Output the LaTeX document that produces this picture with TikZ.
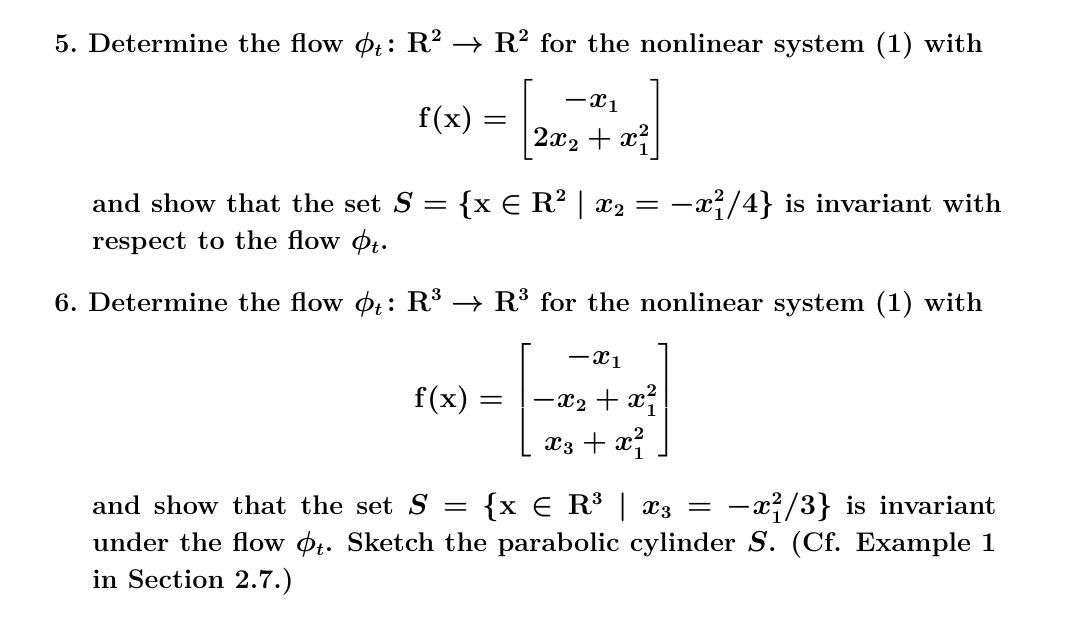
\documentclass[tikz,border=0pt]{standalone}
\usepackage{amsmath,amssymb}
\begin{document}
\begin{tikzpicture}[x=1pt,y=1pt,
  ln/.style={anchor=base west,inner sep=0pt,font=\fontsize{13.5}{18.5}\selectfont\bfseries\boldmath}]
\useasboundingbox[fill=white] (0,0) rectangle (540,-308);
\node[ln] (l1) at (27,-26) {5.\ Determine the flow $\phi_t\colon \mathbf{R}^2\to\mathbf{R}^2$ for the nonlinear system (1) with};
\node[ln,anchor=west] (m1) at (209,-60) {$\mathbf{f}(\mathbf{x})=\begin{bmatrix}-x_1\\[1pt] 2x_2+x_1^2\end{bmatrix}$};
\node[ln] (l2) at (46,-106) {and show that the set $S=\{\mathbf{x}\in\mathbf{R}^2\mid x_2=-x_1^2/4\}$ is invariant with};
\node[ln] (l3) at (46,-124.5) {respect to the flow $\phi_t$.};
\node[ln] (l4) at (27,-155.5) {6.\ Determine the flow $\phi_t\colon \mathbf{R}^3\to\mathbf{R}^3$ for the nonlinear system (1) with};
\node[ln,anchor=west] (m2) at (207,-200) {$\mathbf{f}(\mathbf{x})=\begin{bmatrix}-x_1\\[3pt] -x_2+x_1^2\\[3pt] x_3+x_1^2\end{bmatrix}$};
\node[ln,text width=452pt,align=justify,anchor=north west] (l5) at (46,-246) {and show that the set $S=\{\mathbf{x}\in\mathbf{R}^3\mid x_3=-x_1^2/3\}$ is invariant under the flow $\phi_t$. Sketch the parabolic cylinder $S$. (Cf. Example 1 in Section 2.7.)\par};
\end{tikzpicture}
\end{document}
